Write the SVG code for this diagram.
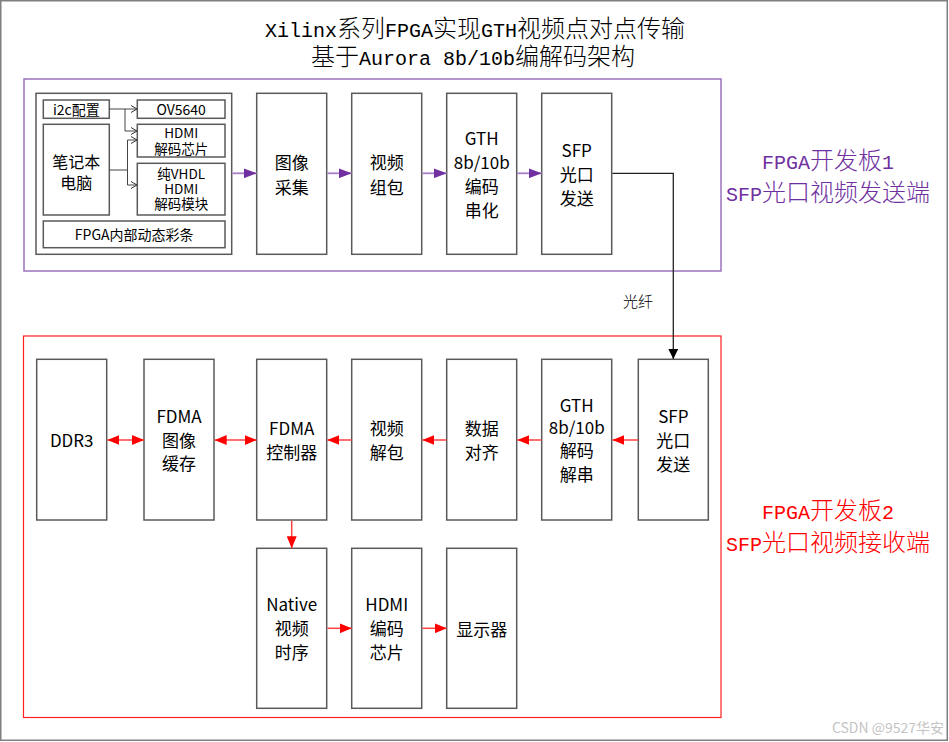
<svg xmlns="http://www.w3.org/2000/svg" width="949" height="742" viewBox="0 0 949 742">
<style>
.bx{fill:#fff;stroke:#5a5a5a;stroke-width:1.5}
.t{font-family:"Noto Sans CJK SC","Noto Sans",sans-serif;font-size:17px;fill:#000;text-anchor:middle;dominant-baseline:central}
.s{font-family:"Noto Sans CJK SC","Noto Sans",sans-serif;font-size:13.5px;fill:#000;text-anchor:middle;dominant-baseline:central}
.ss{font-family:"Noto Sans CJK SC",sans-serif;font-size:24px;font-weight:300;text-anchor:middle}
.m{font-family:"Liberation Mono",monospace;font-size:20px;font-weight:400}
.pl{fill:none;stroke:#a67fc8;stroke-width:1.8}
.rl{fill:none;stroke:#ff4040;stroke-width:1.5}
.kl{fill:none;stroke:#222;stroke-width:1.3}
.gl{fill:none;stroke:#444;stroke-width:1}
</style>
<defs>
<marker id="ap" markerWidth="13" markerHeight="10" refX="13" refY="5" orient="auto" markerUnits="userSpaceOnUse"><path d="M0,0 L13,5 L0,10 z" fill="#7030a0"/></marker>
<marker id="ar" markerWidth="12" markerHeight="10" refX="12" refY="5" orient="auto-start-reverse" markerUnits="userSpaceOnUse"><path d="M0,0 L12,5 L0,10 z" fill="#ff0000"/></marker>
<marker id="ak" markerWidth="10" markerHeight="12" refX="10" refY="5" orient="auto" markerUnits="userSpaceOnUse"><path d="M0,0 L10,5 L0,10 z" fill="#000"/></marker>
<marker id="ao" markerWidth="8" markerHeight="8" refX="7" refY="4" orient="auto" markerUnits="userSpaceOnUse"><path d="M1,0.5 L7,4 L1,7.5" fill="none" stroke="#333" stroke-width="1"/></marker>
</defs>
<rect x="0" y="0" width="949" height="742" fill="#fff"/>
<rect x="0.75" y="0.75" width="946.5" height="739.5" fill="none" stroke="#7f7f7f" stroke-width="1.5"/>

<g id="title">
<text class="ss" x="475" y="37" fill="#000"><tspan class="m">Xilinx</tspan>系列<tspan class="m">FPGA</tspan>实现<tspan class="m">GTH</tspan>视频点对点传输</text>
<text class="ss" x="473" y="65" fill="#000">基于<tspan class="m">Aurora 8b/10b</tspan>编解码架构</text>
</g>

<g id="board1">
<rect x="24" y="79" width="697" height="192" fill="none" stroke="#9b72c0" stroke-width="1.5"/>
<text class="ss" x="828" y="169" fill="#7030a0"><tspan class="m">FPGA</tspan>开发板<tspan class="m">1</tspan></text>
<text class="ss" x="828" y="201" fill="#7030a0"><tspan class="m">SFP</tspan>光口视频发送端</text>
</g>

<g id="board2">
<rect x="23.5" y="336" width="697.5" height="381.5" fill="none" stroke="#ff2020" stroke-width="1.2"/>
<text class="ss" x="828" y="519" fill="#ff0000"><tspan class="m">FPGA</tspan>开发板<tspan class="m">2</tspan></text>
<text class="ss" x="828" y="551" fill="#ff0000"><tspan class="m">SFP</tspan>光口视频接收端</text>
</g>

<g id="source-group">
<rect class="bx" x="36" y="93.3" width="195.7" height="161"/>
</g>
<g id="i2c"><rect class="bx" x="43.3" y="100" width="66" height="18.3"/><text class="s" x="76.3" y="109" style="font-size:14px">i2c配置</text></g>
<g id="laptop"><rect class="bx" x="43.3" y="124.3" width="66" height="90.7"/><text class="t" x="76.3" y="160.5" style="font-size:16px">笔记本</text><text class="t" x="76.3" y="182" style="font-size:16px">电脑</text></g>
<g id="ov5640"><rect class="bx" x="137.3" y="100" width="87.7" height="18.3"/><text class="s" x="181.2" y="109" style="font-size:14px">OV5640</text></g>
<g id="hdmi-chip"><rect class="bx" x="137.3" y="124.3" width="87.7" height="32.7"/><text class="s" x="181.2" y="131.7">HDMI</text><text class="s" x="181.2" y="148">解码芯片</text></g>
<g id="vhdl"><rect class="bx" x="137.3" y="163.3" width="87.7" height="51.7"/><text class="s" x="181.2" y="172.5">纯VHDL</text><text class="s" x="181.2" y="187.5">HDMI</text><text class="s" x="181.2" y="203">解码模块</text></g>
<g id="colorbar"><rect class="bx" x="43.3" y="221" width="181.7" height="26.7"/><text class="s" x="134.2" y="234.3" style="font-size:14px">FPGA内部动态彩条</text></g>

<g id="capture"><rect class="bx" x="256.7" y="93.3" width="70" height="161"/><text class="t" x="291.7" y="161.5">图像</text><text class="t" x="291.7" y="186">采集</text></g>
<g id="pack"><rect class="bx" x="351.7" y="93.3" width="70" height="161"/><text class="t" x="386.7" y="161.5">视频</text><text class="t" x="386.7" y="186">组包</text></g>
<g id="gth-tx"><rect class="bx" x="446.7" y="93.3" width="70" height="161"/><text class="t" x="481.7" y="137">GTH</text><text class="t" x="481.7" y="161">8b/10b</text><text class="t" x="481.7" y="185">编码</text><text class="t" x="481.7" y="209.5">串化</text></g>
<g id="sfp-tx"><rect class="bx" x="541.7" y="93.3" width="70" height="161"/><text class="t" x="576.7" y="149">SFP</text><text class="t" x="576.7" y="173">光口</text><text class="t" x="576.7" y="197.5">发送</text></g>

<g id="ddr3"><rect class="bx" x="36.7" y="359.3" width="70" height="160.7"/><text class="t" x="71.7" y="439">DDR3</text></g>
<g id="fdma-buf"><rect class="bx" x="144" y="359.3" width="70" height="160.7"/><text class="t" x="179" y="415.5">FDMA</text><text class="t" x="179" y="439">图像</text><text class="t" x="179" y="462.5">缓存</text></g>
<g id="fdma-ctrl"><rect class="bx" x="256.7" y="359.3" width="70" height="160.7"/><text class="t" x="291.7" y="427.5">FDMA</text><text class="t" x="291.7" y="451">控制器</text></g>
<g id="unpack"><rect class="bx" x="351.7" y="359.3" width="70" height="160.7"/><text class="t" x="386.7" y="427.5">视频</text><text class="t" x="386.7" y="451.5">解包</text></g>
<g id="align"><rect class="bx" x="446.7" y="359.3" width="70" height="160.7"/><text class="t" x="481.7" y="427.5">数据</text><text class="t" x="481.7" y="451.5">对齐</text></g>
<g id="gth-rx"><rect class="bx" x="541.7" y="359.3" width="70" height="160.7"/><text class="t" x="576.7" y="404">GTH</text><text class="t" x="576.7" y="426.5">8b/10b</text><text class="t" x="576.7" y="449">解码</text><text class="t" x="576.7" y="473">解串</text></g>
<g id="sfp-rx"><rect class="bx" x="638.3" y="359.3" width="70" height="160.7"/><text class="t" x="673.3" y="415">SFP</text><text class="t" x="673.3" y="439.3">光口</text><text class="t" x="673.3" y="463.3">发送</text></g>

<g id="native"><rect class="bx" x="256.7" y="548.3" width="70" height="160"/><text class="t" x="291.7" y="603.5">Native</text><text class="t" x="291.7" y="627.5">视频</text><text class="t" x="291.7" y="651.5">时序</text></g>
<g id="hdmi-enc"><rect class="bx" x="351.7" y="548.3" width="70" height="160"/><text class="t" x="386.7" y="603.5">HDMI</text><text class="t" x="386.7" y="627.5">编码</text><text class="t" x="386.7" y="651.5">芯片</text></g>
<g id="display"><rect class="bx" x="446.7" y="548.3" width="70" height="160"/><text class="t" x="481.7" y="628.3">显示器</text></g>

<g id="connectors">
<path class="gl" d="M109.3,109 H137" marker-end="url(#ao)"/>
<path class="gl" d="M125,109 V131 H137" marker-end="url(#ao)"/>
<path class="gl" d="M109.3,170 H127.5 V140 H137" marker-end="url(#ao)"/>
<path class="gl" d="M127.5,170 V185 H137" marker-end="url(#ao)"/>
<path class="pl" d="M232.5,173.3 H256.7" marker-end="url(#ap)"/>
<path class="pl" d="M327.4,173.3 H351.7" marker-end="url(#ap)"/>
<path class="pl" d="M422.4,173.3 H446.7" marker-end="url(#ap)"/>
<path class="pl" d="M517.4,173.3 H541.7" marker-end="url(#ap)"/>
<path class="kl" d="M612.4,173.3 H673.3 V359" marker-end="url(#ak)"/>
<text x="638" y="307" style="font-family:'Noto Sans CJK SC',sans-serif;font-size:15px;font-weight:300" text-anchor="middle">光纤</text>
<path class="rl" d="M638.3,440 H612.4" marker-end="url(#ar)"/>
<path class="rl" d="M541.7,440 H517.4" marker-end="url(#ar)"/>
<path class="rl" d="M446.7,440 H422.4" marker-end="url(#ar)"/>
<path class="rl" d="M351.7,440 H327.4" marker-end="url(#ar)"/>
<path class="rl" d="M256.7,440 H214.7" marker-start="url(#ar)" marker-end="url(#ar)"/>
<path class="rl" d="M144,440 H107.4" marker-start="url(#ar)" marker-end="url(#ar)"/>
<path class="rl" d="M291.7,520.7 V548.3" marker-end="url(#ar)"/>
<path class="rl" d="M327.4,628.3 H351.7" marker-end="url(#ar)"/>
<path class="rl" d="M422.4,628.3 H446.7" marker-end="url(#ar)"/>
</g>

<text x="944" y="733" style="font-family:'Noto Sans CJK SC','Liberation Sans',sans-serif;font-size:14px;fill:#c4c4c4" text-anchor="end">CSDN @9527华安</text>
</svg>
